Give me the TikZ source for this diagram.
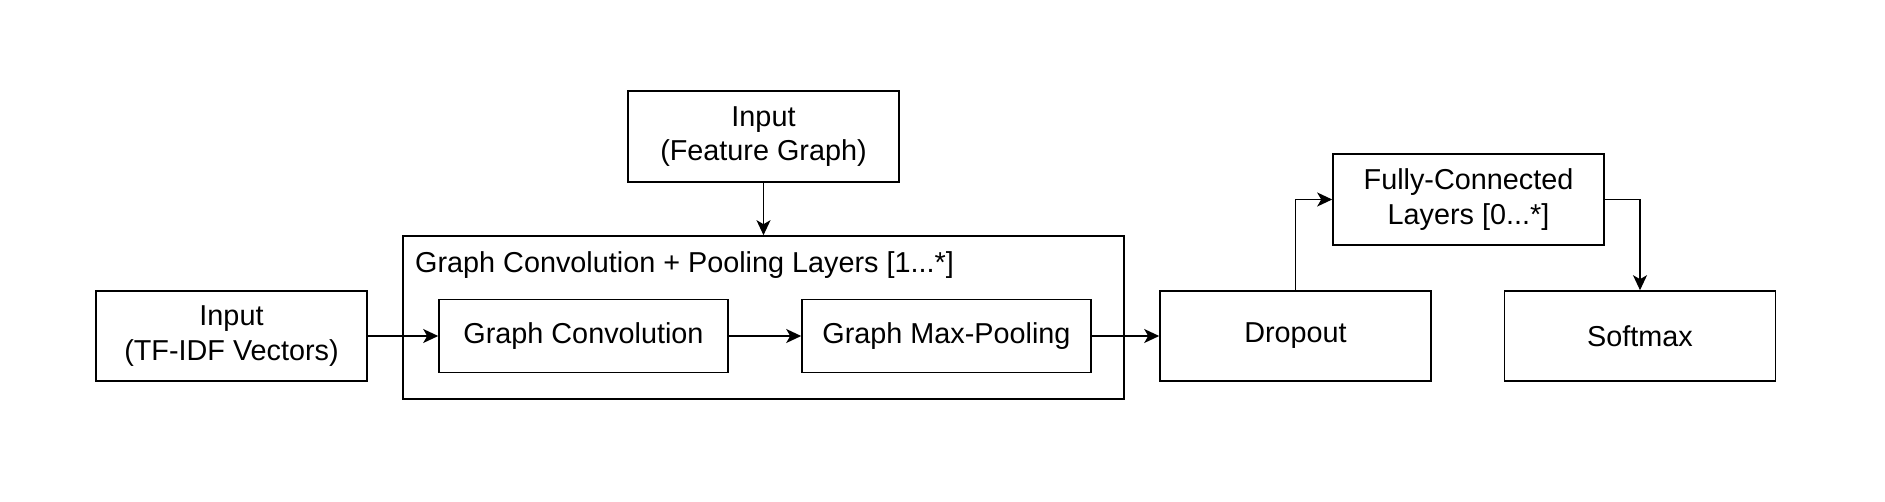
\documentclass[tikz,border=0pt]{standalone}
\usepackage{fontspec}
\setmainfont{Liberation Sans}
\usetikzlibrary{arrows.meta}
\tikzset{
  blk/.style={draw=black, line width=1.6pt, fill=white, inner sep=0pt, align=center,
    font=\fontsize{28.8}{34.6}\selectfont},
  conn/.style={line width=1.6pt, -{Stealth[length=15pt,width=14pt,inset=4pt]}}
}
\begin{document}
\begin{tikzpicture}[x=1pt,y=-1pt]
\useasboundingbox[fill=white] (0,0) rectangle (1885,501);
\node[blk, minimum width=721pt, minimum height=163pt] (cont) at (763.5,317.5) {};
\node[anchor=west, inner sep=0pt, font=\fontsize{28.8}{34.6}\selectfont] (title) at (415,265) {Graph Convolution + Pooling Layers [1...*]};
\node[blk, minimum width=271pt, minimum height=90pt] (tfidf) at (231.5,336) {Input\\(TF-IDF Vectors)};
\node[blk, minimum width=271pt, minimum height=91pt] (fg) at (763.5,136.5) {Input\\(Feature Graph)};
\node[blk, minimum width=289pt, minimum height=73pt] (gc) at (583.5,336) {Graph Convolution};
\node[blk, minimum width=289pt, minimum height=73pt] (gmp) at (946.5,336) {Graph Max-Pooling};
\node[blk, minimum width=271pt, minimum height=90pt] (drop) at (1295.5,336) {Dropout};
\node[blk, minimum width=271pt, minimum height=91pt] (fc) at (1468.5,199.5) {Fully-Connected\\Layers [0...*]};
\node[blk, minimum width=271pt, minimum height=90pt] (soft) at (1640,336) {Softmax};
\draw[conn] (tfidf.east) -- (gc.west);
\draw[conn] (gc.east) -- (gmp.west);
\draw[conn] (gmp.east) -- (drop.west);
\draw[conn] (fg.south) -- (cont.north);
\draw[conn] (drop.north) |- (fc.west);
\draw[conn] (fc.east) -| (soft.north);
\end{tikzpicture}
\end{document}
